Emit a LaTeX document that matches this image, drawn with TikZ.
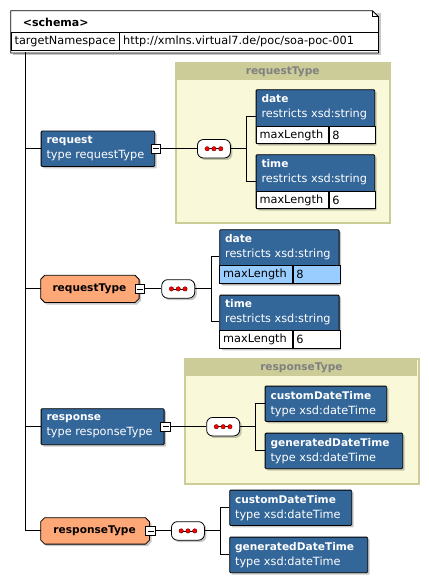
\documentclass[tikz,border=0pt]{standalone}
\usepackage{fontspec}
\setmainfont{DejaVu Sans}
\usepackage{tikz}
\usepackage{xcolor}
\usetikzlibrary{shadows,calc}

\definecolor{xblue}{HTML}{336699}
\definecolor{xorange}{HTML}{FFA877}
\definecolor{grphead}{HTML}{CCCC99}
\definecolor{grpbody}{HTML}{F9F9D9}
\definecolor{attrblue}{HTML}{99CCFF}

\newcommand{\nm}[1]{{\fontsize{10.6}{15}\selectfont\bfseries #1}}

\tikzset{
  box/.style={anchor=north west, inner sep=0pt, line width=0.8pt},
  shade/.style={drop shadow={shadow xshift=2pt, shadow yshift=-2pt, fill=black, opacity=0.22}},
  elem/.style={box, draw, fill=xblue, rounded corners=1pt, shade},
  typebox/.style={box},
  octa/.style={fill=xorange, draw=black, line width=0.8pt, shade},
  cell/.style={box, draw, minimum height=17.6pt, inner xsep=3.5pt, align=left},
  lbl/.style={anchor=west, inner sep=0pt, align=left, text=white},
  grp/.style={box, draw=grphead, fill=grpbody, line width=2pt},
  grphd/.style={box, fill=grphead, text=gray, font=\fontsize{10.6}{15}\selectfont\bfseries},
  minus/.style={draw, fill=white, minimum width=9.5pt, minimum height=9pt, inner sep=0pt, line width=0.8pt},
  seq/.style={draw, fill=white, rounded corners=6pt, minimum width=33pt, minimum height=18.5pt,
    inner sep=0pt, line width=0.8pt, shade},
  dot/.style={fill=red, draw=red!40!black, line width=0.4pt},
  wire/.style={line width=0.9pt}
}

\begin{document}
\begin{tikzpicture}[x=1pt, y=-1pt, font=\fontsize{11.3}{15}\selectfont]
    \useasboundingbox[fill=white] (0,0) rectangle (428,588);

    % Groups (complex types)
    \node[grp, minimum width=214pt, minimum height=159.7pt] (reqgrp) at (175.3,62.3) {};
    \node[grphd, minimum width=212pt, minimum height=16pt] (reqgrphd) at (176.3,63.3) {requestType};
    \node[grp, minimum width=233.4pt, minimum height=124.7pt] (respgrp) at (184.3,358.3) {};
    \node[grphd, minimum width=231.4pt, minimum height=16pt] (respgrphd) at (185.3,359.3) {responseType};

    % Schema box
    \node[box, minimum width=367pt, minimum height=41.6pt] (schema) at (10.7,10.7) {};
    \fill[black, opacity=0.22] ($(schema.north west)+(2,2)$) rectangle ($(schema.south east)+(2,2)$);
    \filldraw[fill=white, line width=0.8pt] (schema.north west) -- ($(schema.north east)+(-6,0)$)
      -- ($(schema.north east)+(0,6)$) -- (schema.south east) -- (schema.south west) -- cycle;
    \draw[line width=0.6pt] ($(schema.north east)+(-6,0)$) |- ($(schema.north east)+(0,6)$);
    \node[anchor=west, inner sep=0pt, font=\fontsize{11}{15}\selectfont\bfseries] (schemattl) at (22.7,22) {<schema>};
    \node[cell, text width=101.6pt] (tnskey) at (10.7,32.3) {targetNamespace};
    \node[cell, text width=251.4pt] (tnsval) at (119.3,32.3) {http://xmlns.virtual7.de/poc/soa-poc-001};

    % Global elements and types
    \node[elem, minimum width=113.6pt, minimum height=35.3pt] (request) at (40.7,130.7) {};
    \node[lbl] (requestlbl) at ($(request.west)+(5.6,0)$) {\nm{request}\\type requestType};
    \node[typebox, minimum width=97.6pt, minimum height=26.4pt] (reqtype) at (40.7,275.3) {};
    \node[elem, minimum width=123pt, minimum height=36pt] (response) at (40.7,408.3) {};
    \node[lbl] (responselbl) at ($(response.west)+(5.6,0)$) {\nm{response}\\type responseType};
    \node[typebox, minimum width=108pt, minimum height=25.6pt] (resptype) at (40.7,517.7) {};

    % Octagon outline of the types
    \foreach \t in {reqtype,resptype}
      \filldraw[octa] ($(\t.north west)+(4,0)$) -- ($(\t.north east)+(-4,0)$) -- ($(\t.north east)+(0,4)$)
        -- ($(\t.south east)+(0,-4)$) -- ($(\t.south east)+(-4,0)$) -- ($(\t.south west)+(4,0)$)
        -- ($(\t.south west)+(0,-4)$) -- ($(\t.north west)+(0,4)$) -- cycle;
    \node[inner sep=0pt] (reqtypelbl) at ($(reqtype.center)+(-0.5,0)$) {\nm{requestType}};
    \node[inner sep=0pt] (resptypelbl) at ($(resptype.center)+(-0.5,0)$) {\nm{responseType}};

    % Expand buttons
    \foreach \n in {request,reqtype,response,resptype} {
      \node[minus] (\n min) at ($(\n.east)+(1,0)$) {};
      \draw[line width=0.8pt] ($(\n min.center)+(-3,0)$) -- ($(\n min.center)+(3,0)$);
    }

    % Sequence compositors
    \node[seq] (reqseq) at ($(requestmin.east)+(52.7,0)$) {};
    \node[seq] (rtseq) at ($(reqtypemin.east)+(33,0)$) {};
    \node[seq] (resseq) at ($(responsemin.east)+(52.5,0)$) {};
    \node[seq] (rptseq) at ($(resptypemin.east)+(32.3,0)$) {};
    \foreach \s in {reqseq,rtseq,resseq,rptseq} {
      \draw[line width=0.8pt] ($(\s.center)+(-6.8,0)$) -- ($(\s.center)+(6.8,0)$);
      \foreach \d in {-6.8,0,6.8}
        \filldraw[dot] ($(\s.center)+(\d,0)$) circle (2.2pt);
    }

    % Children of requestType (local)
    \node[elem, minimum width=118.6pt, minimum height=54pt] (reqdate) at (255.7,89.3) {};
    \node[lbl] (reqdatelbl) at ($(reqdate.north west)+(5.6,18.2)$) {\nm{date}\\restricts xsd:string};
    \node[cell, fill=white, text width=65pt] (reqdatek) at ($(reqdate.north west)+(0,36.4)$) {maxLength};
    \node[cell, fill=white, text width=39.6pt] (reqdatev) at (reqdatek.north east) {8};
    \node[elem, minimum width=118.6pt, minimum height=54pt] (reqtime) at (255.7,154.3) {};
    \node[lbl] (reqtimelbl) at ($(reqtime.north west)+(5.6,18.2)$) {\nm{time}\\restricts xsd:string};
    \node[cell, fill=white, text width=65pt] (reqtimek) at ($(reqtime.north west)+(0,36.4)$) {maxLength};
    \node[cell, fill=white, text width=39.6pt] (reqtimev) at (reqtimek.north east) {6};

    % Children of requestType (global)
    \node[elem, minimum width=119.4pt, minimum height=54pt] (rtdate) at (219.3,229.3) {};
    \node[lbl] (rtdatelbl) at ($(rtdate.north west)+(5.6,18)$) {\nm{date}\\restricts xsd:string};
    \node[cell, fill=attrblue, text width=65.4pt] (rtdatek) at ($(rtdate.north west)+(0,36)$) {maxLength};
    \node[cell, fill=attrblue, text width=40pt] (rtdatev) at (rtdatek.north east) {8};
    \node[elem, minimum width=119.4pt, minimum height=53.3pt] (rttime) at (219.3,294.7) {};
    \node[lbl] (rttimelbl) at ($(rttime.north west)+(5.6,17.7)$) {\nm{time}\\restricts xsd:string};
    \node[cell, fill=white, text width=65.4pt] (rttimek) at ($(rttime.north west)+(0,35.3)$) {maxLength};
    \node[cell, fill=white, text width=40pt] (rttimev) at (rttimek.north east) {6};

    % Children of responseType (local and global)
    \node[elem, minimum width=121.6pt, minimum height=35.3pt] (rescdt) at (264.7,385.7) {};
    \node[lbl] (rescdtlbl) at ($(rescdt.west)+(5.6,0)$) {\nm{customDateTime}\\type xsd:dateTime};
    \node[elem, minimum width=137.6pt, minimum height=35.6pt] (resgdt) at (264.7,432.7) {};
    \node[lbl] (resgdtlbl) at ($(resgdt.west)+(5.6,0)$) {\nm{generatedDateTime}\\type xsd:dateTime};
    \node[elem, minimum width=122pt, minimum height=35.3pt] (rptcdt) at (229.3,489.7) {};
    \node[lbl] (rptcdtlbl) at ($(rptcdt.west)+(5.6,0)$) {\nm{customDateTime}\\type xsd:dateTime};
    \node[elem, minimum width=138pt, minimum height=35.6pt] (rptgdt) at (229.3,536.7) {};
    \node[lbl] (rptgdtlbl) at ($(rptgdt.west)+(5.6,0)$) {\nm{generatedDateTime}\\type xsd:dateTime};

    % Trunk
    \coordinate (trunk) at (25.3,52.3);
    \draw[wire] (trunk) -- (trunk |- resptype.west);
    \foreach \n in {request,reqtype,response,resptype}
      \draw[wire] (trunk |- \n.west) -- (\n.west);

    % Element to compositor to children
    \draw[wire] (requestmin.east) -- (reqseq.west);
    \draw[wire] (reqtypemin.east) -- (rtseq.west);
    \draw[wire] (responsemin.east) -- (resseq.west);
    \draw[wire] (resptypemin.east) -- (rptseq.west);
    \draw[wire] (reqseq.east) -- ++(16,0) |- (reqdate.west);
    \draw[wire] (reqseq.east) -- ++(16,0) |- (reqtime.west);
    \draw[wire] (rtseq.east) -- ++(16,0) |- (rtdate.west);
    \draw[wire] (rtseq.east) -- ++(16,0) |- (rttime.west);
    \draw[wire] (resseq.east) -- ++(15.6,0) |- (rescdt.west);
    \draw[wire] (resseq.east) -- ++(15.6,0) |- (resgdt.west);
    \draw[wire] (rptseq.east) -- ++(16,0) |- (rptcdt.west);
    \draw[wire] (rptseq.east) -- ++(16,0) |- (rptgdt.west);
\end{tikzpicture}
\end{document}
